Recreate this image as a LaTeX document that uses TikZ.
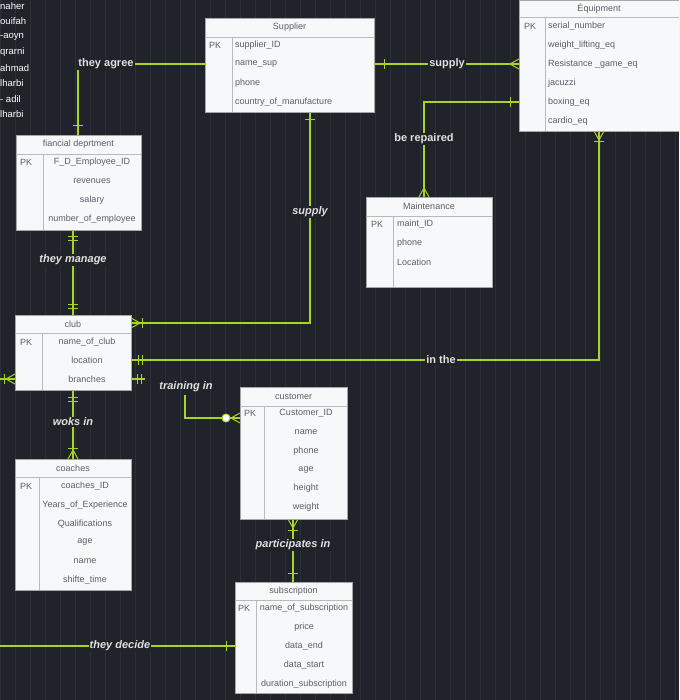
\documentclass[tikz,border=0pt]{standalone}
\usepackage{fontspec}
\setmainfont{Liberation Sans}
\begin{document}
\definecolor{bg}{HTML}{202329}
\definecolor{gridc}{HTML}{2B2F36}
\definecolor{ln}{HTML}{A8D42A}
\definecolor{tx}{HTML}{5A5E66}
\definecolor{boxf}{HTML}{F7F8FA}
\tikzset{
 box/.style={draw=gray!70, fill=boxf, rectangle, anchor=north west, inner sep=0, line width=0.8pt},
 sep/.style={draw=gray!55, line width=0.7pt},
 ttl/.style={text=tx, font=\fontsize{9}{10}\selectfont, inner sep=0},
 row/.style={text=tx, font=\fontsize{9}{10}\selectfont, inner sep=0},
 rowl/.style={row, anchor=west},
 rel/.style={draw=ln, line width=1.1pt},
 lab/.style={fill=bg, text=white!88!black, font=\bfseries\fontsize{11}{12}\selectfont, inner sep=1pt},
 labi/.style={lab, font=\bfseries\itshape\fontsize{11}{12}\selectfont},
 nm/.style={text=white, font=\fontsize{9.5}{10}\selectfont, anchor=west, inner sep=0},
 pics/crow/.style={code={\draw[ln, line width=1pt] (9,0)--(0,-5) (9,0)--(0,0) (9,0)--(0,5);}},
 pics/bar/.style={code={\draw[ln, line width=1pt] (#1,-5)--(#1,5);}},
 pics/circ/.style={code={\draw[ln, fill=white, line width=1pt] (#1,0) circle (4);}},
}
\newcommand\entity[8]{%
 \node[box, minimum width={#4-#2}, minimum height={#5-#3}] (#1) at (#2,#3) {};
 \draw[sep] (#2,#6)--(#4,#6);
 \draw[sep] (#7,#6)--(#7,#5);
 \node[ttl] (#1-t) at ({(#2+#4)/2},{(#3+#6)/2}) {#8};
}
\begin{tikzpicture}[x=1pt,y=-1pt]
\useasboundingbox (0,0) rectangle (679,700);
\clip (0,0) rectangle (679,700);
\fill[bg] (0,0) rectangle (679,700);
\draw[gridc, line width=0.5pt, step=15] (0,0) grid (679,700);

% names
\node[nm] (n1) at (0,6) {naher};
\node[nm] (n2) at (0,21) {ouifah};
\node[nm] (n3) at (0,37) {-aoyn};
\node[nm] (n4) at (0,52) {qrarni};
\node[nm] (n5) at (0,68) {ahmad};
\node[nm] (n6) at (0,83) {lharbi};
\node[nm] (n7) at (0,99) {- adil};
\node[nm] (n8) at (0,114) {lharbi};

% connectors (drawn first)
\coordinate (agc) at (78,64);
\draw[rel] (78,135) -- (agc) -- (205,64);
\node[lab] (lagree) at (106,64) {they agree};
\pic at (205,64) {crow}; 
\pic at (78,135) [rotate=90] {bar=9};

\draw[rel] (374,64) -- (519,64);
\node[lab] (lsup) at (447,64) {supply};
\pic at (519,64) [rotate=180] {crow};
\pic at (374,64) {bar=10};

\coordinate (rp) at (424,102);
\draw[rel] (519,102) -- (rp) -- (424,197);
\node[lab] (lrep) at (424,139) {be repaired};
\pic at (519,102) [rotate=180] {bar=9};
\pic at (424,197) [rotate=90] {crow};

\coordinate (sp) at (310,323);
\draw[rel] (310,112) -- (sp) -- (131,323);
\node[labi] (lsup2) at (310,212) {supply};
\pic at (310,112) [rotate=-90] {bar=8};
\pic at (131,323) {crow};
\pic at (131,323) {bar=11};

\coordinate (it) at (599,360);
\draw[rel] (131,360) -- (it) -- (599,131);
\node[lab] (lin) at (441,360) {in the};
\pic at (131,360) {bar=7};
\pic at (131,360) {bar=11};
\pic at (599,131) [rotate=-90] {crow};
\pic at (599,131) [rotate=-90] {bar=11};

\draw[rel] (73,230) -- (73,315);
\node[labi] (lman) at (73,260) {they manage};
\pic at (73,230) [rotate=-90] {bar=7};
\pic at (73,230) [rotate=-90] {bar=11};
\pic at (73,315) [rotate=90] {bar=7};
\pic at (73,315) [rotate=90] {bar=11};

\coordinate (tr1) at (145,379);
\coordinate (tr2) at (185,395);
\coordinate (tr3) at (185,418);
\draw[rel] (131,379) -- (tr1);
\draw[rel] (tr2) -- (tr3) -- (240,418);
\node[labi, fill=none] (ltr) at (186,387) {training in};
\pic at (131,379) {bar=6};
\pic at (131,379) {bar=10};
\pic at (240,418) [rotate=180] {crow};
\pic at (240,418) [rotate=180] {circ=14};

\coordinate (lc) at (0,379);
\draw[rel] (lc) -- (15,379);
\pic at (15,379) [rotate=180] {crow};
\pic at (15,379) [rotate=180] {bar=11};

\draw[rel] (73,390) -- (73,459);
\node[labi] (lwok) at (73,422) {woks in};
\pic at (73,390) [rotate=-90] {bar=7};
\pic at (73,390) [rotate=-90] {bar=11};
\pic at (73,459) [rotate=90] {crow};
\pic at (73,459) [rotate=90] {bar=11};

\draw[rel] (293,519) -- (293,582);
\node[labi] (lpar) at (293,545) {participates in};
\pic at (293,519) [rotate=-90] {crow};
\pic at (293,519) [rotate=-90] {bar=11};
\pic at (293,582) [rotate=90] {bar=9};

\coordinate (ld) at (0,646);
\draw[rel] (ld) -- (235,646);
\node[labi] (ldec) at (120,646) {they decide};
\pic at (235,646) [rotate=180] {bar=9};

% entities
\entity{sup}{205}{18}{374}{112}{37}{232}{Supplier}
\node[rowl] at (209,45) {PK};
\node[rowl] at (235,45) {supplier\_ID};
\node[rowl] at (235,64) {name\_sup};
\node[rowl] at (235,83) {phone};
\node[rowl] at (235,102) {country\_of\_manufacture};

\entity{eq}{519}{0}{679}{131}{17}{545}{Équipment}
\node[rowl] at (524,26) {PK};
\node[rowl] at (548,26) {serial\_number};
\node[rowl] at (548,45) {weight\_lifting\_eq};
\node[rowl] at (548,64) {Resistance \_game\_eq};
\node[rowl] at (548,83) {jacuzzi};
\node[rowl] at (548,102) {boxing\_eq};
\node[rowl] at (548,121) {cardio\_eq};

\entity{mt}{366}{197}{492}{287}{216}{393}{Maintenance}
\node[rowl] at (371,224) {PK};
\node[rowl] at (397,224) {maint\_ID};
\node[rowl] at (397,243) {phone};
\node[rowl] at (397,262) {Location};

\entity{fd}{16}{135}{141}{230}{154}{43}{fiancial deprtment}
\node[rowl] at (20,162) {PK};
\node[row] at (92,162) {F\_D\_Employee\_ID};
\node[row] at (92,181) {revenues};
\node[row] at (92,200) {salary};
\node[row] at (92,219) {number\_of\_employee};

\entity{cl}{15}{315}{131}{390}{333}{42}{club}
\node[rowl] at (20,342) {PK};
\node[row] at (87,342) {name\_of\_club};
\node[row] at (87,360) {location};
\node[row] at (87,379) {branches};

\entity{co}{15}{459}{131}{590}{477}{39}{coaches}
\node[rowl] at (20,486) {PK};
\node[row] at (85,486) {coaches\_ID};
\node[row] at (85,505) {Years\_of\_Experience};
\node[row] at (85,524) {Qualifications};
\node[row] at (85,542) {age};
\node[row] at (85,561) {name};
\node[row] at (85,580) {shifte\_time};

\entity{cu}{240}{387}{347}{519}{406}{264}{customer}
\node[rowl] at (244,413) {PK};
\node[row] at (306,413) {Customer\_ID};
\node[row] at (306,432) {name};
\node[row] at (306,451) {phone};
\node[row] at (306,470) {age};
\node[row] at (306,488) {height};
\node[row] at (306,507) {weight};

\entity{sb}{235}{582}{352}{693}{600}{256}{subscription}
\node[rowl] at (238,608) {PK};
\node[row] at (304,608) {name\_of\_subscription};
\node[row] at (304,627) {price};
\node[row] at (304,646) {data\_end};
\node[row] at (304,665) {data\_start};
\node[row] at (304,684) {duration\_subscription};
\end{tikzpicture}
\end{document}
